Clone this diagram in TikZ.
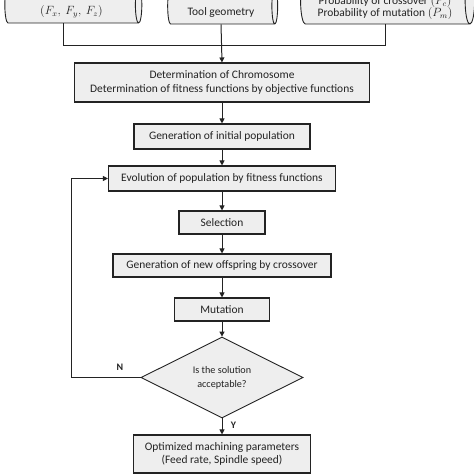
\documentclass[tikz,border=0pt]{standalone}
\usepackage{fontspec}
\setmainfont{Carlito}
\usetikzlibrary{shapes.geometric,arrows.meta}
\definecolor{boxgray}{RGB}{238,238,238}
\definecolor{inkgray}{RGB}{35,35,35}
\tikzset{
  box/.style={draw=inkgray, line width=1.1pt, fill=boxgray, inner sep=0pt, align=center,
    text=inkgray, font=\fontsize{11.5}{13.5}\selectfont},
  drum/.style={cylinder, shape border rotate=0, aspect=0.25, draw=inkgray, line width=0.9pt,
    fill=boxgray, inner sep=0pt, align=center, text=inkgray, font=\fontsize{11.5}{12.5}\selectfont},
  query/.style={diamond, draw=inkgray, line width=0.9pt, fill=boxgray, inner sep=0pt, align=center,
    text=inkgray, font=\fontsize{10.2}{14}\selectfont},
  arr/.style={-{Triangle[length=5pt,width=5pt]}, line width=1pt, draw=inkgray},
  lnk/.style={line width=1pt, draw=inkgray},
  yn/.style={font=\fontsize{10}{11}\bfseries, text=inkgray}
}
\begin{document}
\begin{tikzpicture}[x=1bp,y=-1bp]
\useasboundingbox (0,0) rectangle (474,474);
\clip (0,0) rectangle (474,474);

% input data
\node[drum, minimum height=137bp, minimum width=36bp] (forces) at (71.5,5) {\strut\\$(F_x,\ F_y,\ F_z)$};
\node[drum, minimum height=110bp, minimum width=36bp] (tool) at (221,6) {\strut\\Tool geometry};
\node[drum, minimum height=174bp, minimum width=46bp] (probs) at (385,1) {\strut\\Probability of crossover $(P_c)$\\Probability of mutation $(P_m)$};

% main chain
\node[box, minimum width=295bp, minimum height=39bp] (chrom) at (222,82.5) {Determination of Chromosome\\Determination of fitness functions by objective functions};
\node[box, minimum width=176bp, minimum height=25bp] (init) at (222,136.5) {Generation of initial population};
\node[box, minimum width=227bp, minimum height=25bp] (evol) at (222,178.5) {Evolution of population by fitness functions};
\node[box, minimum width=86bp, minimum height=23bp] (sel) at (222,222.5) {Selection};
\node[box, minimum width=218bp, minimum height=23bp] (cross) at (222,265.5) {Generation of new offspring by crossover};
\node[box, minimum width=95bp, minimum height=23bp] (mut) at (222,309.5) {Mutation};
\node[query, minimum width=162bp, minimum height=71bp] (ok) at (222,377.5) {Is the solution\\acceptable?};
\node[box, minimum width=177bp, minimum height=38bp] (best) at (222,454) {Optimized machining parameters\\(Feed rate, Spindle speed)};

\coordinate (join) at (222,46);
\draw[lnk] ([xshift=-8bp]forces.south) |- (join);
\draw[lnk] (probs.south) |- (join);
\draw[arr] (tool.south) -- (chrom.north);

\draw[arr] (chrom) -- (init);
\draw[arr] (init) -- (evol);
\draw[arr] (evol) -- (sel);
\draw[arr] (sel) -- (cross);
\draw[arr] (cross) -- (mut);
\draw[arr] (mut) -- (ok);
\draw[arr] (ok) -- node[yn, right=5bp, pos=0.45] {Y} (best);
\draw[arr] (ok.west) -- node[yn, above=3bp, pos=0.3] {N} ++(-69,0) |- (evol.west);
\end{tikzpicture}
\end{document}
